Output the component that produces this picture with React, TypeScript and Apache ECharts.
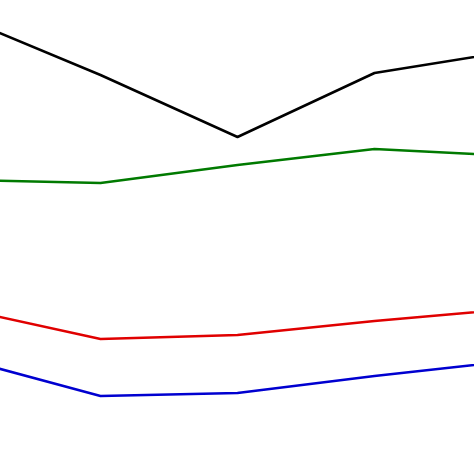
import React, { useEffect, useRef } from "react";
import * as echarts from "echarts";

// five points per line; the first and last sit just outside the visible area
const xPositions = [0, 1, 2, 3, 4];

// values (height above the bottom edge, in px units)
const blackValues = [456, 399, 337, 401, 423];
const greenValues = [294, 291, 309, 325, 318];
const redValues = [165, 135, 139, 153, 165];
const blueValues = [115, 78, 81, 98, 113];

const seriesDefs = [
  { name: "black", color: "#000000", data: blackValues },
  { name: "green", color: "#007a00", data: greenValues },
  { name: "red", color: "#e00000", data: redValues },
  { name: "blue", color: "#0000d0", data: blueValues },
];

const App: React.FC = () => {
  const chartRef = useRef<HTMLDivElement>(null);

  useEffect(() => {
    if (!chartRef.current) return;
    const chart = echarts.init(chartRef.current, undefined, { renderer: "svg" });

    chart.setOption({
      animation: false,
      backgroundColor: "#ffffff",
      grid: { left: 0, right: 0, top: 0, bottom: 0 },
      // the plot is cropped: the x range stops short of the outer points
      xAxis: {
        type: "value",
        min: 0.2664,
        max: 3.7263,
        show: false,
        splitLine: { show: false },
      },
      yAxis: {
        type: "value",
        min: 0,
        max: 474,
        show: false,
        splitLine: { show: false },
      },
      series: seriesDefs.map((s) => ({
        name: s.name,
        type: "line",
        data: s.data.map((v, i) => [xPositions[i], v]),
        symbol: "none",
        clip: true,
        lineStyle: { color: s.color, width: 2.5 },
      })),
    });

    return () => {
      chart.dispose();
    };
  }, []);

  return (
    <div
      ref={chartRef}
      style={{ position: "fixed", left: 0, top: 0, width: 474, height: 474 }}
    />
  );
};

export default App;
